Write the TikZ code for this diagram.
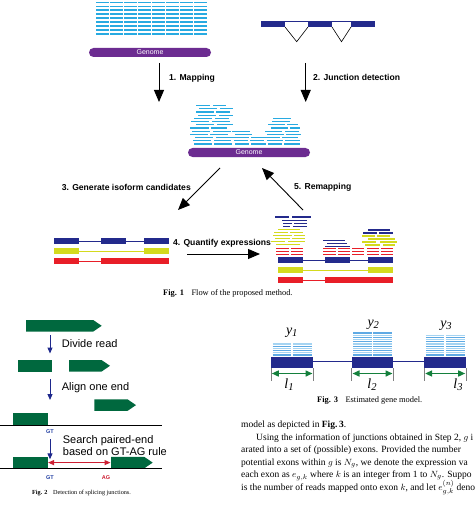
\documentclass[tikz,border=0pt]{standalone}
\usepackage{amsmath}
\usepackage{fontspec}
\setmainfont{Liberation Serif}
\setsansfont{Liberation Sans}
\usepackage{tikz}
\usetikzlibrary{arrows.meta}

\definecolor{readcyan}{RGB}{40,170,225}
\definecolor{genomepurple}{RGB}{108,44,145}
\definecolor{isoblue}{RGB}{35,42,140}
\definecolor{isoyellow}{RGB}{212,218,30}
\definecolor{isored}{RGB}{232,30,40}
\definecolor{readgreen}{RGB}{0,104,62}
\definecolor{arrowblue}{RGB}{30,40,140}
\definecolor{gtblue}{RGB}{30,60,160}
\definecolor{agred}{RGB}{205,30,50}
\definecolor{lenggreen}{RGB}{20,128,60}
\definecolor{covblue}{RGB}{95,170,228}
\definecolor{covlight}{RGB}{165,212,242}

% green read pieces of Fig. 2
\newcommand{\readarrow}[3]{\fill[readgreen] (#1,#3) -- ({#2-8.5},#3) -- (#2,{#3+5.8}) -- ({#2-8.5},{#3+11.6}) -- (#1,{#3+11.6}) -- cycle;}
\newcommand{\readbox}[3]{\fill[readgreen] (#1,#3) rectangle (#2,{#3+11.6});}

% three isoform candidates
\newcommand{\isoforms}[2]{%
\draw[isoblue, line width=1pt] ({#1+25},{#2+3.3}) -- ({#1+90},{#2+3.3});
\fill[isoblue] (#1,#2) rectangle ++(25,6.6);
\fill[isoblue] ({#1+47},#2) rectangle ++(25,6.6);
\fill[isoblue] ({#1+90},#2) rectangle ++(24.5,6.6);
\draw[isoyellow, line width=1pt] ({#1+25},{#2+13.3}) -- ({#1+90},{#2+13.3});
\fill[isoyellow] (#1,{#2+10}) rectangle ++(25,6.6);
\fill[isoyellow] ({#1+90},{#2+10}) rectangle ++(24.5,6.6);
\draw[isored, line width=1pt] ({#1+25},{#2+23.3}) -- ({#1+47},{#2+23.3});
\fill[isored] (#1,{#2+20}) rectangle ++(25,6.6);
\fill[isored] ({#1+47},{#2+20}) rectangle ++(67.5,6.6);
}

\begin{document}
\begin{tikzpicture}[x=1pt,y=-1pt,
  toprd/.style={readcyan, line width=1.7pt},
  pilerd/.style={readcyan, line width=1.3pt},
  genomebar/.style={fill=genomepurple, rounded corners=4.5pt, text=white,
    font=\sffamily\fontsize{7}{7}\selectfont, inner sep=0pt, minimum height=9pt},
  steplabel/.style={font=\sffamily\bfseries\fontsize{8.6}{10}\selectfont, inner sep=0pt},
  bigarrow/.style={line width=0.9pt, -{Triangle[width=10pt,length=12pt]}},
  smallarrow/.style={arrowblue, line width=1pt, -{Triangle[width=5pt,length=6pt]}},
  fig2label/.style={font=\sffamily\fontsize{11}{9.8}\selectfont, inner sep=0pt, align=left},
  sitelabel/.style={font=\sffamily\bfseries\fontsize{5.5}{6}\selectfont, inner sep=0pt},
  caption/.style={font=\fontsize{8.4}{9}\selectfont, inner sep=0pt, anchor=base west},
  bodytext/.style={font=\fontsize{9.5}{12}\selectfont, inner sep=0pt, anchor=base west},
  varlabel/.style={font=\fontsize{14}{14}\selectfont\itshape, inner sep=0pt}]
\useasboundingbox (0,0) rectangle (474,505);
\clip (0,0) rectangle (474,505);

% ---- Fig. 1 ----
% reads and genome
\foreach \r in {0,...,8} {
  \foreach \c in {0,...,7} {
    \draw[toprd] ({96+\c*14},{2.5+\r*3.9}) -- ++(12.8,0);
  }
}
\node[genomebar, minimum width=122pt] (genome1) at (150,52.5) {Genome};

% gene with junctions
\draw[isoblue, line width=0.8pt] (285,21.8) -- (351,21.8);
\fill[isoblue] (261,21) rectangle (285,27);
\fill[isoblue] (308,21) rectangle (332,27);
\fill[isoblue] (351,21) rectangle (375,27);
\draw[line width=0.6pt] (285,27) -- (296.7,41.7) -- (308,27);
\draw[line width=0.6pt] (332,27) -- (341.5,41.7) -- (351,27);

% steps 1 and 2
\coordinate (map1) at (159,63);
\coordinate (map2) at (159,102);
\coordinate (jun1) at (305.7,63);
\coordinate (jun2) at (305.7,102);
\draw[bigarrow] (map1) -- (map2);
\draw[bigarrow] (jun1) -- (jun2);
\node[steplabel, anchor=west] (mapping) at (169,78) {1. Mapping};
\node[steplabel, anchor=west] (junction) at (313,77) {2. Junction detection};

% mapped reads
\foreach \a/\b/\y in {194/212/144, 214/232/144, 193/211/140.8, 214/231/140.8,
  195/213/137.6, 216/233/137.6, 190/208/134.4, 210/228/134.4, 192/210/131.2,
  213/231/131.2, 190/209/128, 211/227/128, 196/214/124.8, 217/233/124.8,
  191/209/121.6, 212/230/121.6, 194/212/118.4, 215/229/118.4, 198/216/115.2,
  219/233/115.2, 196/214/112, 216/230/112, 199/217/108.8, 220/233/108.8,
  196/210/105.8, 213/226/105.8,
  235/249/144, 251/266/144, 234/248/140.8, 250/264/140.8, 233/249/137.6,
  251/265/137.6, 235/252/134.4, 232/250/131.2,
  268/282/144, 284/300/144, 267/283/140.8, 285/300/140.8, 265/280/137.6,
  282/298/137.6, 267/284/134.4, 286/301/134.4, 265/282/131.2, 285/299/131.2,
  271/288/128, 290/300/128, 268/285/124.8, 287/298/124.8, 272/290/121.6,
  273/291/118.4} {
  \draw[pilerd] (\a,\y) -- (\b,\y);
}
\node[genomebar, minimum width=122pt] (genome2) at (249,152.5) {Genome};

% steps 3 and 5
\coordinate (gen1) at (220,168);
\coordinate (gen2) at (178,210);
\coordinate (rem1) at (303,210);
\coordinate (rem2) at (262,168);
\draw[bigarrow] (gen1) -- (gen2);
\draw[bigarrow] (rem1) -- (rem2);
\node[steplabel, anchor=east] (generate) at (191,187) {3. Generate isoform candidates};
\node[steplabel, anchor=west] (remapping) at (294,187) {5. Remapping};

% isoform candidates
\isoforms{54}{237.7}
\isoforms{278}{256.7}

% step 4
\coordinate (quant1) at (187,254);
\coordinate (quant2) at (260,254);
\draw[bigarrow] (quant1) -- (quant2);
\node[steplabel, anchor=west] (quantify) at (173,243) {4. Quantify expressions};

% reads assigned to isoforms
\foreach \a/\b/\y in {275/289/217, 292/311/217, 282/307/220.5, 283/292/223.7,
  294/307/223.7, 283/290/226.7, 293/307/226.7, 323/345/240.7, 327/347/243.7,
  325/350/246.7, 368/390/230, 363/377/233, 379/393/233} {
  \draw[isoblue, line width=1.3pt] (\a,\y) -- (\b,\y);
}
\foreach \a/\b/\y in {278/300/229.6, 274/288/232.5, 290/303/232.5, 273/292/235.5,
  294/305/235.5, 275/290/238.5, 292/305/238.5, 271/285/241.5, 288/305/241.5,
  276/300/244.6, 362/375/236, 377/390/236, 368/395/239, 362/376/242, 380/397/242,
  365/380/245, 383/395/245} {
  \draw[isoyellow, line width=1.3pt] (\a,\y) -- (\b,\y);
}
\foreach \y in {248.4, 251.4, 254.4} {
  \foreach \a/\b in {276/289, 291/303, 323/336, 338/350, 352/364, 367/379, 381/393} {
    \draw[isored, line width=1.3pt] (\a,\y) -- (\b,\y);
  }
}

\node[caption] (cap1) at (163,295) {\textbf{Fig. 1}\hspace{0.9em}Flow of the proposed method.};

% ---- Fig. 2 ----
\readarrow{26}{101.7}{320}
\coordinate (div1) at (50,335);
\coordinate (div2) at (50,353.5);
\draw[smallarrow] (div1) -- (div2);
\node[fig2label, anchor=west] (divide) at (61.7,344) {Divide read};

\readbox{18.3}{52.3}{360}
\readarrow{69}{110}{360}
\coordinate (ali1) at (50,379);
\coordinate (ali2) at (50,400);
\draw[smallarrow] (ali1) -- (ali2);
\node[fig2label, anchor=west] (align) at (61.7,387.7) {Align one end};

\readarrow{94.3}{136}{399.3}
\readbox{12.7}{47.7}{413.2}
\draw[line width=0.8pt] (0,425) -- (162.3,425);
\node[sitelabel, text=gtblue] (gt1) at (50,431.5) {GT};

\coordinate (sea1) at (50,439.3);
\coordinate (sea2) at (50,459.3);
\draw[smallarrow] (sea1) -- (sea2);
\node[fig2label, anchor=west] (search) at (62.7,445.6) {Search paired-end\\based on GT-AG rule};

\readbox{12.7}{47.7}{456.8}
\readarrow{111}{152.7}{456.8}
\draw[line width=0.8pt] (0,468.3) -- (162.3,468.3);
\coordinate (gap1) at (48,462.6);
\coordinate (gap2) at (110.5,462.6);
\draw[agred, line width=1pt, {Triangle[width=5pt,length=6pt]}-{Triangle[width=5pt,length=6pt]}] (gap1) -- (gap2);
\node[sitelabel, text=gtblue] (gt2) at (50,477.3) {GT};
\node[sitelabel, text=agred] (ag) at (106,477.3) {AG};

\node[caption, font=\fontsize{6.2}{7}\selectfont] (cap2) at (32,494.5) {\textbf{Fig. 2}\hspace{0.9em}Detection of splicing junctions.};

% ---- Fig. 3 ----
\foreach \xa/\xb/\n in {271/313.3/5, 351.7/393.3/10, 424.3/466/9} {
  \foreach \i in {0,...,\n} {
    \pgfmathsetmacro{\yy}{355-2.2*\i}
    \pgfmathsetmacro{\xm}{(\xa+\xb)/2}
    \ifodd\i \def\cc{covlight}\else \def\cc{covblue}\fi
    \draw[\cc, line width=1.1pt] ({\xa+1.5},\yy) -- ({\xm-0.8},\yy);
    \draw[\cc, line width=1.1pt] ({\xm+0.8},\yy) -- ({\xb-1.5},\yy);
  }
}
\draw[isoblue, line width=1pt] (313.3,361.7) -- (351.7,361.7);
\draw[isoblue, line width=1pt] (393.3,361.7) -- (424.3,361.7);
\foreach \xa/\xb/\k in {271/313.3/1, 351.7/393.3/2, 424.3/466/3} {
  \fill[isoblue] (\xa,357.3) rectangle (\xb,368.3);
  \draw[gray, line width=0.5pt] (\xa,368.3) -- (\xa,381);
  \draw[gray, line width=0.5pt] (\xb,368.3) -- (\xb,381);
  \draw[lenggreen, line width=1.5pt, {Triangle[width=6pt,length=7pt]}-{Triangle[width=6pt,length=7pt]}]
    ({\xa+0.8},373.5) -- ({\xb-0.8},373.5);
}
\node[varlabel] (y1) at (291.7,332.5) {y\kern-0.3pt\raisebox{-2pt}{\fontsize{10.5}{10}\selectfont 1}};
\node[varlabel] (y2) at (373.3,324.5) {y\kern-0.3pt\raisebox{-2pt}{\fontsize{10.5}{10}\selectfont 2}};
\node[varlabel] (y3) at (446,325.5) {y\kern-0.3pt\raisebox{-2pt}{\fontsize{10.5}{10}\selectfont 3}};
\node[varlabel] (l1) at (289,385) {l\kern0.3pt\raisebox{-2pt}{\fontsize{10.5}{10}\selectfont 1}};
\node[varlabel] (l2) at (372,385) {l\kern0.3pt\raisebox{-2pt}{\fontsize{10.5}{10}\selectfont 2}};
\node[varlabel] (l3) at (458,385) {l\kern0.3pt\raisebox{-2pt}{\fontsize{10.5}{10}\selectfont 3}};

\node[caption] (cap3) at (317,402) {\textbf{Fig. 3}\hspace{0.9em}Estimated gene model.};

% ---- running text (cut at the page edge) ----
\node[bodytext] (line1) at (241,427) {model as depicted in \textbf{Fig.\,3}.};
\node[bodytext] (line2) at (256,440) {Using the information of junctions obtained in Step 2, $g$ i};
\node[bodytext] (line3) at (241,452.5) {arated into a set of (possible) exons. Provided the number};
\node[bodytext] (line4) at (241,465) {potential exons within $g$ is $N_g$, we denote the expression va};
\node[bodytext] (line5) at (241,477.5) {each exon as $e_{g,k}$ where $k$ is an integer from 1 to $N_g$. Suppo};
\node[bodytext] (line6) at (241,490) {is the number of reads mapped onto exon $k$, and let $e^{(n)}_{g,k}$ deno};
\end{tikzpicture}
\end{document}
